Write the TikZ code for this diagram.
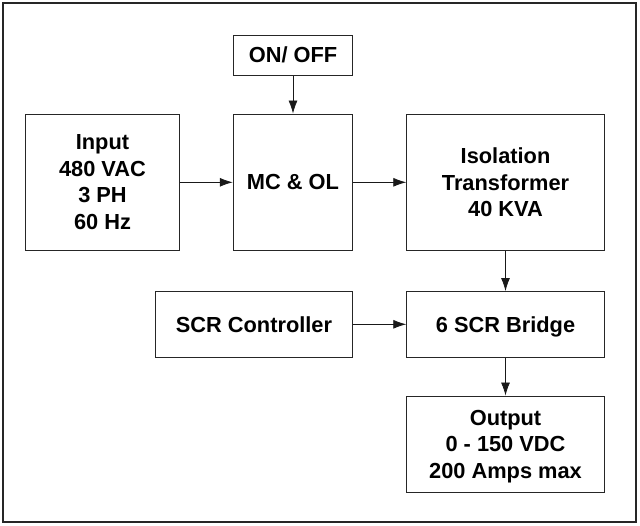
\documentclass[tikz,border=0pt]{standalone}
\usepackage{fontspec}
\setmainfont{Liberation Sans}
\usetikzlibrary{positioning,arrows.meta}
\tikzset{
 block/.style={rectangle,draw=black!85,line width=1pt,align=center,font=\bfseries\fontsize{21.8}{26.6}\selectfont,inner sep=0pt},
 link/.style={-{Latex[length=13pt,width=9pt]},line width=0.8pt,black!90}
}
\begin{document}
\begin{tikzpicture}[x=1pt,y=-1pt]
 \useasboundingbox (0,0) rectangle (640,526);
 \node[rectangle,draw=black!85,line width=2pt,minimum width=633pt,minimum height=518pt] (frame) at (319.5,262.5) {};

 \node[block,minimum width=153.5pt,minimum height=136.5pt] (input) at (102.5,182.3) {Input\\480 VAC\\3 PH\\60 Hz};
 \node[block,minimum width=119.5pt,minimum height=136.5pt] (mcol) [right=53pt of input] {MC \& OL};
 \node[block,minimum width=119.5pt,minimum height=39.5pt] (onoff) [above=38pt of mcol] {ON/ OFF};
 \node[block,minimum width=197.5pt,minimum height=136.5pt] (transformer) [right=53pt of mcol] {Isolation\\Transformer\\40 KVA};
 \node[block,minimum width=197.5pt,minimum height=65.5pt,text depth=0pt] (bridge) [below=40pt of transformer] {6 SCR Bridge};
 \node[block,minimum width=197.5pt,minimum height=65.5pt] (controller) [left=53pt of bridge] {SCR Controller};
 \node[block,minimum width=197.5pt,minimum height=96.5pt,text depth=0pt] (output) [below=38pt of bridge] {Output\\0 - 150 VDC\\200 Amps max};

\path[draw] (onoff) edge [link] (mcol);
\path[draw] (input) edge [link] (mcol);
\path[draw] (mcol) edge [link] (transformer);
\path[draw] (transformer) edge [link] (bridge);
\path[draw] (controller) edge [link] (bridge);
\path[draw] (bridge) edge [link] (output);
\end{tikzpicture}
\end{document}
